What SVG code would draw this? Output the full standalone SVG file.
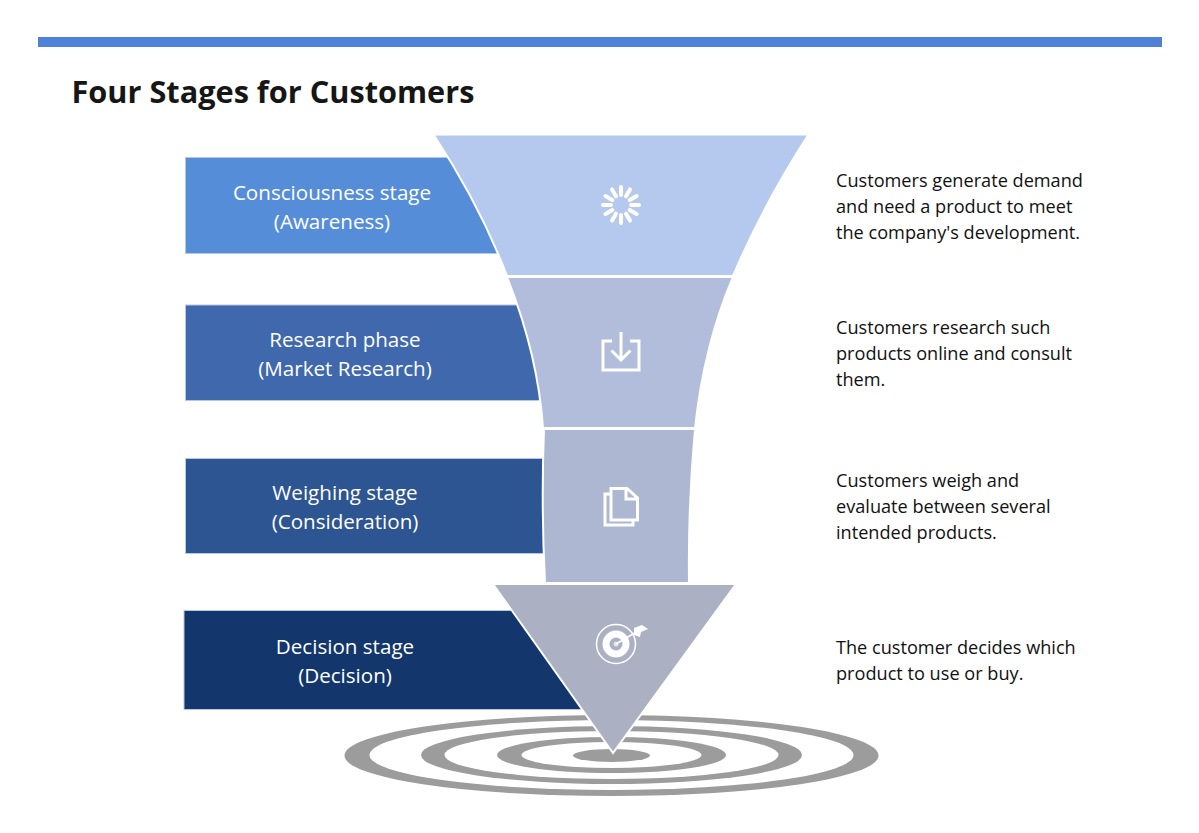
<svg xmlns="http://www.w3.org/2000/svg" width="1199" height="833" viewBox="0 0 1199 833">
<style>
text{font-family:"Open Sans","Noto Sans","Liberation Sans",sans-serif}
.title{font-size:30.700px;font-weight:700;fill:#161616}
.lab{font-size:20.600px;fill:#fff;text-anchor:middle}
.desc{font-size:18.150px;fill:#111}
.bar{stroke:#b4c8e8;stroke-width:1}
.seg{stroke:#fff;stroke-width:2}
.ic{fill:none;stroke:#fff;stroke-width:3}
.ring{fill:#9c9c9c}
.hole{fill:#fff}
</style>
<rect width="1199" height="833" fill="#fff"/>
<rect x="38" y="37" width="1124" height="10" fill="#4f81d9"/>
<text class="title" x="71.500" y="103">Four Stages for Customers</text>
<g id="target">
<ellipse class="ring" cx="611.500" cy="755.500" rx="267" ry="40.500"/><ellipse class="hole" cx="611.500" cy="755" rx="242" ry="35"/>
<ellipse class="ring" cx="611.500" cy="755" rx="190.500" ry="29"/><ellipse class="hole" cx="611.500" cy="755" rx="167" ry="24"/>
<ellipse class="ring" cx="611.500" cy="755" rx="114.500" ry="18"/><ellipse class="hole" cx="611.500" cy="755" rx="90" ry="13"/>
<ellipse class="ring" cx="611.500" cy="755.500" rx="38.500" ry="6.500"/>
</g>
<g id="stage-1">
<rect class="bar" x="185.500" y="157.500" width="320" height="96" fill="#568dd8"/>
<path class="seg" d="M433.500 134.500H808.500Q763 205 733 276H507Q480 205 433.500 134.500Z" fill="#b5c9ef"/>
<g fill="none" stroke="#fff" stroke-width="4" stroke-linecap="round"><path d="M621 187V195M630 189.400L626 196.300M636.600 196L629.700 200M639 205H631M636.600 214L629.700 210M630 220.600L626 213.700M621 223V215M612 220.600L616 213.700M605.400 214L612.300 210M603 205H611M605.400 196L612.300 200M612 189.400L616 196.300"/></g>
<text class="lab"><tspan x="332" y="200">Consciousness stage</tspan><tspan x="332" y="229">(Awareness)</tspan></text>
<text class="desc"><tspan x="836" y="187">Customers generate demand</tspan><tspan x="836" y="213">and need a product to meet</tspan><tspan x="836" y="239">the company's development.</tspan></text>
</g>
<g id="stage-2">
<rect class="bar" x="185.500" y="305" width="360" height="95.500" fill="#4068ad"/>
<path class="seg" d="M507 277H733Q704 345 695 428H543Q538 355 507 277Z" fill="#b1bddb"/>
<path class="ic" d="M612 341H603V370H639V341H630M621 332V360M611.500 350.500L621 360L630.500 350.500"/>
<text class="lab"><tspan x="345" y="347">Research phase</tspan><tspan x="345" y="376">(Market Research)</tspan></text>
<text class="desc"><tspan x="836" y="334">Customers research such</tspan><tspan x="836" y="360">products online and consult</tspan><tspan x="836" y="386">them.</tspan></text>
</g>
<g id="stage-3">
<rect class="bar" x="185.500" y="458.500" width="360" height="95" fill="#2d5592"/>
<path class="seg" d="M544 429H695Q688 505 689 583H545Q541 505 544 429Z" fill="#adb7d2"/>
<path d="M610 494H605V525H633V519" fill="none" stroke="#fff" stroke-width="3"/>
<path d="M611 488.500H627L637.500 498V520H611ZM626 488.500V499H637.500" fill="none" stroke="#fff" stroke-width="3"/>
<text class="lab"><tspan x="345" y="500">Weighing stage</tspan><tspan x="345" y="529">(Consideration)</tspan></text>
<text class="desc"><tspan x="836" y="487">Customers weigh and</tspan><tspan x="836" y="513">evaluate between several</tspan><tspan x="836" y="539">intended products.</tspan></text>
</g>
<g id="stage-4">
<rect class="bar" x="184" y="610.500" width="420" height="99" fill="#13366d"/>
<path class="seg" d="M493 584H736L613 753Z" fill="#acb0c3"/>
<circle cx="616" cy="644" r="19.500" fill="none" stroke="#fff" stroke-width="1.500"/>
<circle cx="616" cy="644" r="10" fill="none" stroke="#fff" stroke-width="7"/>
<circle cx="616" cy="644" r="2.500" fill="#e4e6ee"/>
<path d="M616 644L638 631" stroke="#fff" stroke-width="1.500"/>
<path d="M634 628L642 625L648 629L641 632L640 637L634 635Z" fill="#fff"/>
<text class="lab"><tspan x="345" y="654">Decision stage</tspan><tspan x="345" y="683">(Decision)</tspan></text>
<text class="desc"><tspan x="836" y="654">The customer decides which</tspan><tspan x="836" y="680">product to use or buy.</tspan></text>
</g>
</svg>
